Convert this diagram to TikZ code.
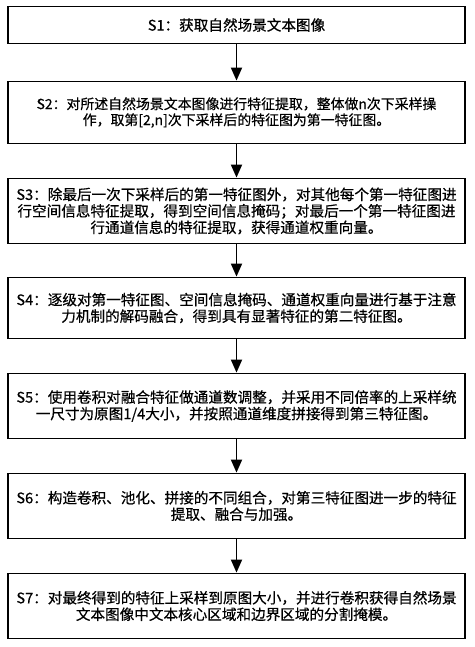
\documentclass[tikz,border=0pt]{standalone}
\usepackage{fontspec}
\setmainfont{Noto Sans CJK SC}[FakeBold=0.5,BoldFont=*,AutoFakeBold=0.5]
\usetikzlibrary{arrows.meta}

\begin{document}
\begin{tikzpicture}[x=1pt,y=-1pt,
        stepbox/.style={draw, line width=1.8pt, minimum width=457pt, text width=452pt, align=center, inner sep=0pt, font=\fontsize{14.6}{16.5}\selectfont\bfseries},
        flow/.style={-{Triangle[length=13pt,width=11pt]}, line width=1.8pt}]
        \useasboundingbox (0,0) rectangle (474,647);
        \node[stepbox, minimum height=37pt] (s1) at (236.5,25) {S1：获取自然场景文本图像};
        \node[stepbox, minimum height=62pt, font=\fontsize{13.9}{16}\selectfont\bfseries] (s2) at (236.5,112.5) {S2：对所述自然场景文本图像进行特征提取，整体做n次下采样操\\作，取第[2,n]次下采样后的特征图为第一特征图。};
        \node[stepbox, minimum height=65pt] (s3) at (236.5,211) {S3：除最后一次下采样后的第一特征图外，对其他每个第一特征图进\\行空间信息特征提取，得到空间信息掩码；对最后一个第一特征图进\\行通道信息的特征提取，获得通道权重向量。};
        \node[stepbox, minimum height=61pt] (s4) at (236.5,308) {S4：逐级对第一特征图、空间信息掩码、通道权重向量进行基于注意\\力机制的解码融合，得到具有显著特征的第二特征图。};
        \node[stepbox, minimum height=65pt] (s5) at (236.5,406) {S5：使用卷积对融合特征做通道数调整，并采用不同倍率的上采样统\\一尺寸为原图1/4大小，并按照通道维度拼接得到第三特征图。};
        \node[stepbox, minimum height=65pt] (s6) at (236.5,506) {S6：构造卷积、池化、拼接的不同组合，对第三特征图进一步的特征\\提取、融合与加强。};
        \node[stepbox, minimum height=65pt] (s7) at (236.5,606) {S7：对最终得到的特征上采样到原图大小，并进行卷积获得自然场景\\文本图像中文本核心区域和边界区域的分割掩模。};
        \draw[flow] (s1) -- (s2);
        \draw[flow] (s2) -- (s3);
        \draw[flow] (s3) -- (s4);
        \draw[flow] (s4) -- (s5);
        \draw[flow] (s5) -- (s6);
        \draw[flow] (s6) -- (s7);
    \end{tikzpicture}
\end{document}
